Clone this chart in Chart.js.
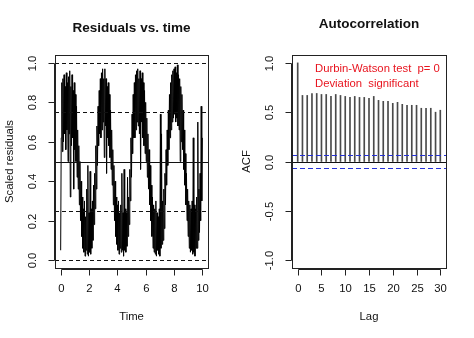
<!DOCTYPE html>
<html>
<head>
<meta charset="utf-8">
<script src="https://cdn.jsdelivr.net/npm/chart.js@4.4.1/dist/chart.umd.min.js"></script>
<style>
  html, body { margin: 0; padding: 0; background: #fff; }
  #wrap { position: relative; width: 474px; height: 338px; overflow: hidden; }
  canvas { position: absolute; top: 0; }
  #resid { left: 0; }
  #acf { left: 237px; }
</style>
</head>
<body>
<div id="wrap">
  <canvas id="resid" width="237" height="338"></canvas>
  <canvas id="acf" width="237" height="338"></canvas>
</div>
<script>
// Scaled residuals, sampled evenly from time 0 to time 10
const residuals = [
  0.05, 0.62, 0.90, 0.55, 0.92,   0.60, 0.94, 0.64, 0.88, 0.56,
  0.95, 0.66, 0.90, 0.50, 0.93,   0.64, 0.96, 0.32, 0.88, 0.58,
  0.94, 0.62, 0.86, 0.36, 0.90,   0.56, 0.84, 0.50, 0.78, 0.42,
  0.66, 0.36, 0.58, 0.28, 0.50,   0.20, 0.40, 0.12, 0.32, 0.06,
  0.26, 0.04, 0.30, 0.02, 0.22,   0.05, 0.36, 0.03, 0.48, 0.02,
  0.24, 0.04, 0.45, 0.03, 0.26,   0.06, 0.30, 0.10, 0.38, 0.18,
  0.44, 0.26, 0.58, 0.36, 0.68,   0.48, 0.78, 0.58, 0.86, 0.64,
  0.92, 0.62, 0.95, 0.66, 0.97,   0.70, 0.92, 0.52, 0.97, 0.68,
  0.92, 0.44, 0.88, 0.62, 0.90,   0.58, 0.84, 0.52, 0.76, 0.46,
  0.66, 0.38, 0.56, 0.28, 0.48,   0.20, 0.40, 0.12, 0.32, 0.08,
  0.28, 0.05, 0.30, 0.03, 0.24,   0.06, 0.28, 0.04, 0.44, 0.05,
  0.24, 0.02, 0.46, 0.05, 0.26,   0.04, 0.24, 0.07, 0.42, 0.12,
  0.32, 0.18, 0.46, 0.30, 0.62,   0.42, 0.74, 0.54, 0.84, 0.62,
  0.90, 0.62, 0.94, 0.66, 0.96,   0.70, 0.97, 0.68, 0.92, 0.64,
  0.96, 0.46, 0.92, 0.70, 0.95,   0.62, 0.90, 0.58, 0.86, 0.54,
  0.80, 0.50, 0.72, 0.42, 0.64,   0.36, 0.56, 0.28, 0.48, 0.20,
  0.38, 0.12, 0.32, 0.06, 0.28,   0.04, 0.26, 0.03, 0.30, 0.02,
  0.24, 0.05, 0.22, 0.03, 0.26,   0.02, 0.74, 0.06, 0.64, 0.08,
  0.30, 0.10, 0.36, 0.16, 0.44,   0.28, 0.56, 0.38, 0.66, 0.48,
  0.76, 0.56, 0.84, 0.62, 0.90,   0.66, 0.94, 0.70, 0.96, 0.72,
  0.97, 0.74, 0.98, 0.70, 0.95,   0.72, 0.99, 0.68, 0.94, 0.66,
  0.92, 0.50, 0.88, 0.60, 0.84,   0.56, 0.76, 0.46, 0.66, 0.38,
  0.54, 0.28, 0.44, 0.20, 0.36,   0.12, 0.30, 0.06, 0.28, 0.04,
  0.26, 0.05, 0.30, 0.03, 0.62,   0.04, 0.28, 0.02, 0.26, 0.06,
  0.32, 0.06, 0.70, 0.10, 0.36,   0.14, 0.44, 0.20, 0.78, 0.30,
  0.62
];
const timeStart = 0;
const timeEnd = 10;
const timeTicks = [0, 2, 4, 6, 8, 10];
const residualTicks = [0, 0.2, 0.4, 0.6, 0.8, 1.0];
const quantileLevels = [0, 0.25, 0.75, 1];
const medianLevel = 0.5;

// Autocorrelation of the residuals by lag
const lags = [0, 1, 2, 3, 4, 5, 6, 7, 8, 9, 10, 11, 12, 13, 14, 15,
              16, 17, 18, 19, 20, 21, 22, 23, 24, 25, 26, 27, 28, 29, 30];
const acfValues = [1.00, 0.67, 0.67, 0.69, 0.69, 0.68, 0.68, 0.66, 0.68, 0.67, 0.66,
                   0.65, 0.66, 0.65, 0.65, 0.64, 0.66, 0.62, 0.61, 0.61, 0.59,
                   0.60, 0.58, 0.57, 0.57, 0.57, 0.54, 0.54, 0.54, 0.50, 0.52];
const acfBound = 0.062;
const lagTicks = [0, 5, 10, 15, 20, 25, 30];
const acfTicks = [-1.0, -0.5, 0.0, 0.5, 1.0];
const testLines = ['Durbin-Watson test  p= 0', 'Deviation  significant'];

const FONT = '"Liberation Sans", Arial, Helvetica, sans-serif';
const TEXT = '#111';

// Base-graphics style frame: box, outward ticks, rotated y labels, titles
function baseFrame(cfg) {
  return {
    id: 'baseFrame',
    afterDatasetsDraw(chart) {
      const { ctx, chartArea: a, scales: { x, y } } = chart;
      ctx.save();
      ctx.beginPath();
      ctx.rect(a.left, a.top, a.right - a.left, a.bottom - a.top);
      ctx.clip();
      (cfg.hlines || []).forEach(h => {
        const py = Math.round(y.getPixelForValue(h.value)) + 0.5;
        ctx.strokeStyle = h.color;
        ctx.lineWidth = 1;
        ctx.setLineDash(h.dash || []);
        ctx.beginPath();
        ctx.moveTo(a.left, py);
        ctx.lineTo(a.right, py);
        ctx.stroke();
      });
      ctx.restore();
    },
    afterDraw(chart) {
      const { ctx, chartArea: a, scales: { x, y } } = chart;
      ctx.save();
      ctx.setLineDash([]);
      ctx.strokeStyle = '#222';
      ctx.lineWidth = 1;
      const L = Math.round(a.left) + 0.5, R = Math.round(a.right) + 0.5;
      const T = Math.round(a.top) + 0.5, B = Math.round(a.bottom) + 0.5;
      ctx.strokeRect(L, T, R - L, B - T);

      ctx.fillStyle = TEXT;
      ctx.font = `11.3px ${FONT}`;
      // x axis
      const xs = cfg.xTicks.map(v => Math.round(x.getPixelForValue(v)) + 0.5);
      ctx.beginPath();
      ctx.moveTo(xs[0], B + 1); ctx.lineTo(xs[xs.length - 1], B + 1);
      ctx.stroke();
      xs.forEach(px => { ctx.beginPath(); ctx.moveTo(px, B + 1); ctx.lineTo(px, B + 7); ctx.stroke(); });
      ctx.textAlign = 'center';
      ctx.textBaseline = 'middle';
      cfg.xTicks.forEach((v, i) => ctx.fillText(String(v), xs[i], 289));
      ctx.fillText(cfg.xTitle, (a.left + a.right) / 2, 317);

      // y axis
      const ys = cfg.yTicks.map(v => Math.round(y.getPixelForValue(v)) + 0.5);
      ctx.beginPath();
      ctx.moveTo(L - 1, ys[0]); ctx.lineTo(L - 1, ys[ys.length - 1]);
      ctx.stroke();
      ys.forEach(py => { ctx.beginPath(); ctx.moveTo(L - 1, py); ctx.lineTo(L - 7, py); ctx.stroke(); });
      cfg.yTicks.forEach((v, i) => {
        ctx.save();
        ctx.translate(a.left - 22, ys[i]);
        ctx.rotate(-Math.PI / 2);
        ctx.fillText(v.toFixed(1), 0, 0);
        ctx.restore();
      });
      ctx.save();
      ctx.translate(10, (a.top + a.bottom) / 2);
      ctx.rotate(-Math.PI / 2);
      ctx.fillText(cfg.yTitle, 0, 0);
      ctx.restore();

      // main title
      ctx.font = `bold 13.5px ${FONT}`;
      ctx.fillText(cfg.title, (a.left + a.right) / 2, cfg.titleY);

      // annotation text
      if (cfg.notes) {
        ctx.font = `11.3px ${FONT}`;
        ctx.fillStyle = '#e8141f';
        ctx.textAlign = 'left';
        cfg.notes.forEach((t, i) => ctx.fillText(t, 78, 69 + i * 14.5));
      }
      ctx.restore();
    }
  };
}

const commonOptions = {
  responsive: false,
  animation: false,
  events: [],
  plugins: { legend: { display: false }, tooltip: { enabled: false } },
  elements: { point: { radius: 0 } }
};

// Left panel: residuals against time
new Chart(document.getElementById('resid'), {
  type: 'line',
  data: {
    datasets: [{
      data: residuals.map((v, i) => ({
        x: timeStart + i * (timeEnd - timeStart) / (residuals.length - 1),
        y: v
      })),
      borderColor: '#000',
      borderWidth: 1,
      tension: 0,
      fill: false
    }]
  },
  options: {
    ...commonOptions,
    layout: { padding: { left: 55, right: 29, top: 55, bottom: 70 } },
    scales: {
      x: { type: 'linear', min: timeStart - 0.04 * (timeEnd - timeStart), max: timeEnd + 0.04 * (timeEnd - timeStart), display: false },
      y: { type: 'linear', min: -0.04, max: 1.04, display: false }
    }
  },
  plugins: [baseFrame({
    title: 'Residuals vs. time', titleY: 28.5,
    xTitle: 'Time', yTitle: 'Scaled residuals',
    xTicks: timeTicks, yTicks: residualTicks,
    hlines: [
      ...quantileLevels.map(v => ({ value: v, color: '#111', dash: [4, 3] })),
      { value: medianLevel, color: '#111' }
    ]
  })]
});

// Right panel: autocorrelation function
new Chart(document.getElementById('acf'), {
  type: 'bar',
  data: {
    datasets: [{
      data: acfValues.map((v, i) => ({ x: lags[i], y: v })),
      backgroundColor: '#4a4a4a',
      borderWidth: 0,
      barThickness: 1
    }]
  },
  options: {
    ...commonOptions,
    layout: { padding: { left: 55, right: 28, top: 55, bottom: 70 } },
    scales: {
      x: { type: 'linear', min: -1.2, max: 31.2, display: false, offset: false },
      y: { type: 'linear', min: -1.08, max: 1.08, display: false }
    }
  },
  plugins: [baseFrame({
    title: 'Autocorrelation', titleY: 24,
    xTitle: 'Lag', yTitle: 'ACF',
    xTicks: lagTicks, yTicks: acfTicks,
    hlines: [
      { value: 0, color: '#111' },
      { value: acfBound, color: '#2430d8', dash: [5, 3] },
      { value: -acfBound, color: '#2430d8', dash: [5, 3] }
    ],
    notes: testLines
  })]
});
</script>
</body>
</html>
